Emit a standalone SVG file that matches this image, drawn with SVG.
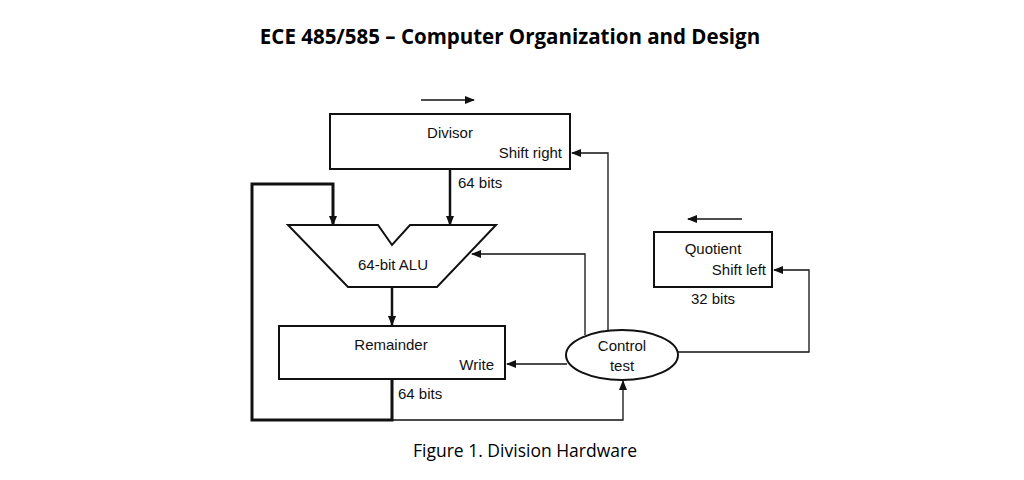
<svg xmlns="http://www.w3.org/2000/svg" width="1024" height="480" viewBox="0 0 1024 480">
<style>
.t{font-family:"Liberation Sans",Arial,sans-serif;font-size:15px;fill:#111}
.box{fill:#fff;stroke:#111;stroke-width:2}
.thin{fill:none;stroke:#111;stroke-width:1.3}
.thick{fill:none;stroke:#111;stroke-width:3}
</style>
<defs>
<marker id="a" markerWidth="10" markerHeight="8" refX="9" refY="4" orient="auto" markerUnits="userSpaceOnUse"><path d="M0,0L10,4L0,8z" fill="#111"/></marker>
</defs>
<rect width="1024" height="480" fill="#fff"/>
<text x="510" y="44" text-anchor="middle" style="font-family:'Open Sans','Liberation Sans',sans-serif;font-size:20.5px;font-weight:bold">ECE 485/585 – Computer Organization and Design</text>
<text x="525" y="457" text-anchor="middle" style="font-family:'Open Sans','Liberation Sans',sans-serif;font-size:17.5px">Figure 1. Division Hardware</text>
<g id="connectors">
<path class="thin" d="M421,100H474" marker-end="url(#a)"/>
<path class="thin" d="M742,219H688" marker-end="url(#a)"/>
<path class="thick" d="M450,169V225" marker-end="url(#a)" style="stroke-width:2.5"/>
<path class="thick" d="M392,287V325" marker-end="url(#a)" style="stroke-width:2.5"/>
<path class="thick" d="M392,379V420H252V184H333V225" marker-end="url(#a)"/>
<path class="thin" d="M392,420H623V381" marker-end="url(#a)"/>
<path class="thin" d="M567,364H507" marker-end="url(#a)"/>
<path class="thin" d="M585,335V254H472" marker-end="url(#a)"/>
<path class="thin" d="M608,331V153H572" marker-end="url(#a)"/>
<path class="thin" d="M678,352H809V270H774" marker-end="url(#a)"/>
</g>
<g id="divisor"><rect class="box" x="330" y="114" width="240" height="55"/>
<text class="t" x="450" y="138" text-anchor="middle">Divisor</text>
<text class="t" x="562" y="158" text-anchor="end">Shift right</text>
<text class="t" x="458" y="188">64 bits</text></g>
<g id="alu"><path class="box" d="M288,225H378L392,245L410,225H496L437,287H348Z"/>
<text class="t" x="393" y="270" text-anchor="middle">64-bit ALU</text></g>
<g id="remainder"><rect class="box" x="279" y="326" width="226" height="53"/>
<text class="t" x="391" y="350" text-anchor="middle">Remainder</text>
<text class="t" x="494" y="370" text-anchor="end">Write</text>
<text class="t" x="398" y="399">64 bits</text></g>
<g id="control"><ellipse class="box" cx="622" cy="355" rx="56" ry="25"/>
<text class="t" x="622" y="351" text-anchor="middle">Control</text>
<text class="t" x="622" y="371" text-anchor="middle">test</text></g>
<g id="quotient"><rect class="box" x="654" y="232" width="118" height="55"/>
<text class="t" x="713" y="254" text-anchor="middle">Quotient</text>
<text class="t" x="766" y="275" text-anchor="end">Shift left</text>
<text class="t" x="713" y="304" text-anchor="middle">32 bits</text></g>
</svg>
